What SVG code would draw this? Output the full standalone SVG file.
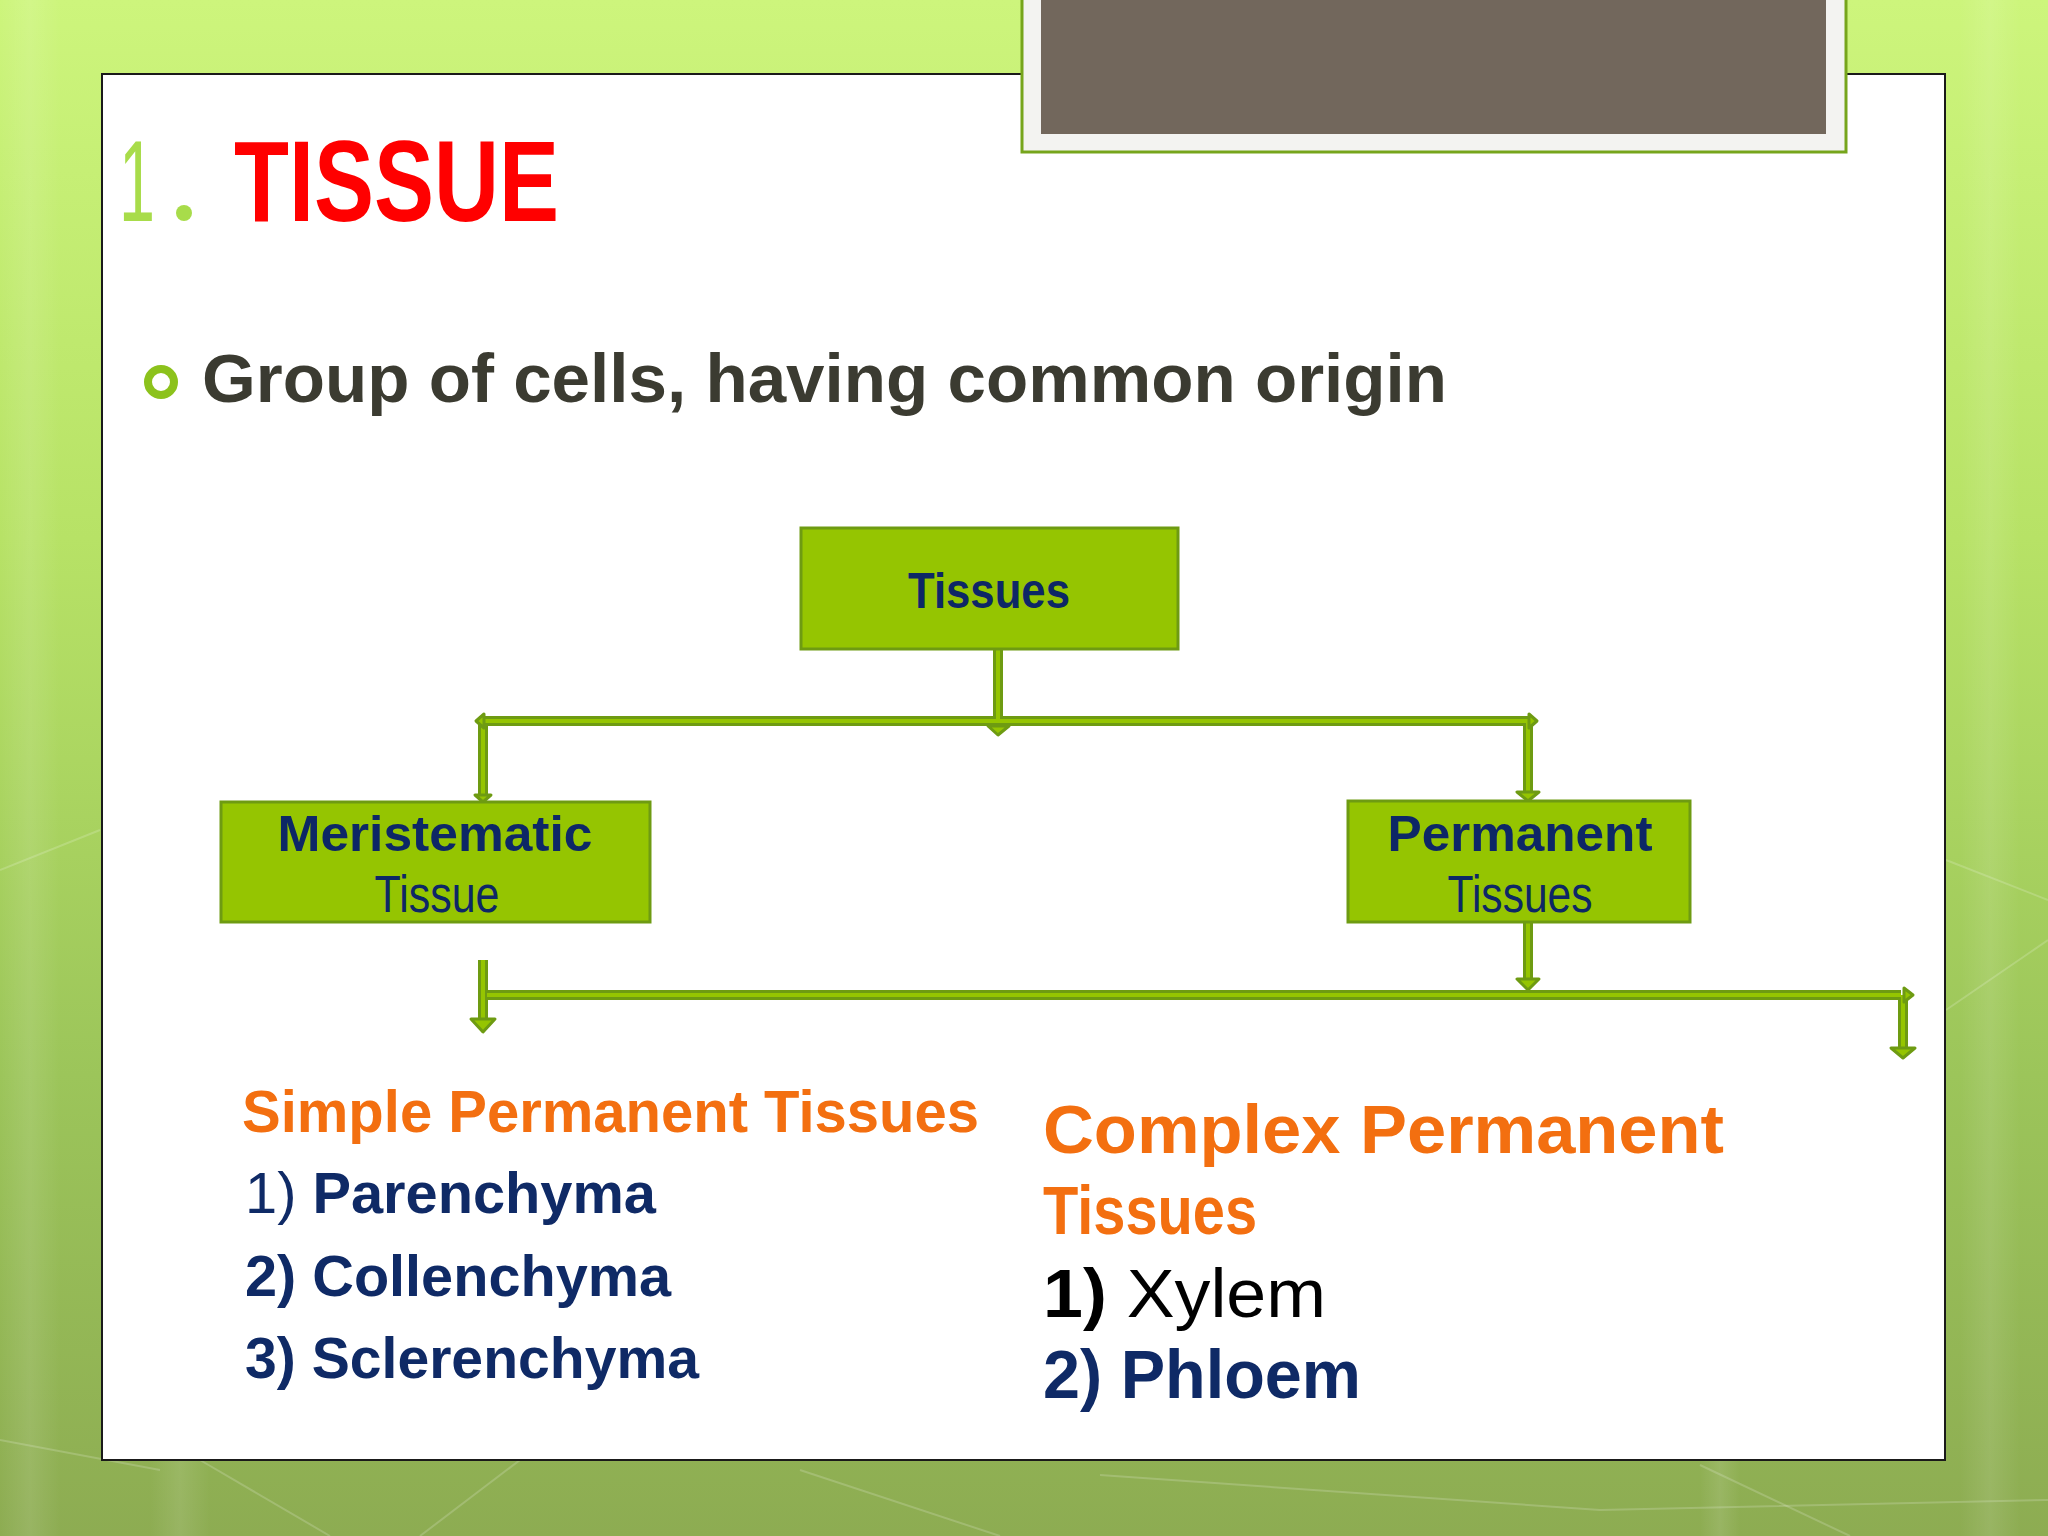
<svg xmlns="http://www.w3.org/2000/svg" width="2048" height="1536" viewBox="0 0 2048 1536">
<defs>
<linearGradient id="bg" x1="0" y1="0" x2="0" y2="1">
<stop offset="0" stop-color="#cdf57c"/>
<stop offset="0.35" stop-color="#b7e266"/>
<stop offset="0.7" stop-color="#9cc55a"/>
<stop offset="1" stop-color="#8dac52"/>
</linearGradient>
<linearGradient id="stripe" x1="0" y1="0" x2="1" y2="0">
<stop offset="0" stop-color="#ffffff" stop-opacity="0"/>
<stop offset="0.5" stop-color="#ffffff" stop-opacity="0.1"/>
<stop offset="1" stop-color="#ffffff" stop-opacity="0"/>
</linearGradient>
<style>
.box{fill:#95c501;stroke:#6e9b12;stroke-width:3}
.lblb{font-family:"Liberation Sans",Arial,sans-serif;font-weight:bold;fill:#0d2766;text-anchor:middle}
.lbll{font-family:"Liberation Sans",Arial,sans-serif;font-weight:normal;fill:#0d2766;text-anchor:middle}
.shaftO{fill:none;stroke:#6e9b12;stroke-width:10}
.shaftI{fill:none;stroke:#95c501;stroke-width:4}
.head{fill:#95c501;stroke:#6e9b12;stroke-width:3;stroke-linejoin:round}
.orange{font-family:"Liberation Sans",Arial,sans-serif;font-weight:bold;fill:#f36f10}
.navy{font-family:"Liberation Sans",Arial,sans-serif;font-weight:bold;fill:#0f2a66}
</style>
</defs>

<!-- background -->
<rect x="0" y="0" width="2048" height="1536" fill="url(#bg)"/>
<rect x="0" y="0" width="60" height="1536" fill="url(#stripe)"/>
<rect x="150" y="1460" width="60" height="76" fill="url(#stripe)"/>
<rect x="1960" y="0" width="60" height="1536" fill="url(#stripe)"/>
<rect x="1700" y="1460" width="40" height="76" fill="url(#stripe)"/>
<g stroke="#ffffff" stroke-opacity="0.18" stroke-width="2" fill="none">
<path d="M0 1440 L160 1470"/>
<path d="M200 1460 L330 1536"/>
<path d="M520 1460 L420 1536"/>
<path d="M800 1470 L1000 1536"/>
<path d="M1100 1475 L1600 1510 L2048 1500"/>
<path d="M1700 1465 L1850 1536"/>
<path d="M1946 1010 L2048 940"/>
<path d="M1946 860 L2048 900"/>
<path d="M0 870 L100 830"/>
</g>

<!-- white panel -->
<rect x="102" y="74" width="1843" height="1386" fill="#ffffff" stroke="#1a1a1a" stroke-width="2"/>

<!-- picture frame -->
<rect x="1022" y="-10" width="824" height="162" fill="#f3f3f1" stroke="#76a51c" stroke-width="3"/>
<rect x="1041" y="0" width="785" height="134" fill="#72675c"/>

<!-- title -->
<text x="119" y="221" font-family="Liberation Sans, Arial, sans-serif" font-size="115" fill="#a8dc4a" textLength="36" lengthAdjust="spacingAndGlyphs">1</text>
<circle cx="184" cy="213" r="8" fill="#a8dc4a"/>
<text x="234" y="221" font-family="Liberation Sans, Arial, sans-serif" font-weight="bold" font-size="115" fill="#ff0000" textLength="325" lengthAdjust="spacingAndGlyphs">TISSUE</text>

<!-- bullet -->
<circle cx="161" cy="382" r="13" fill="none" stroke="#8cc21c" stroke-width="8"/>
<text x="202" y="402" font-family="Liberation Sans, Arial, sans-serif" font-weight="bold" font-size="68" fill="#3b3b31" textLength="1245" lengthAdjust="spacingAndGlyphs">Group of cells, having common origin</text>

<!-- connectors -->
<g id="connectors">
<path class="shaftO" d="M998 649 V721 M479 721 H1533 M483 721 V795 M1528 721 V792 M1528 922 V980 M487 995 H1901 M483 960 V1020 M1903 995 V1048"/>
<path class="shaftI" d="M998 649 V721 M479 721 H1533 M483 721 V795 M1528 721 V792 M1528 922 V980 M487 995 H1901 M483 960 V1020 M1903 995 V1048"/>
<polygon class="head" points="988,726 1009,726 998,735"/>
<polygon class="head" points="475,795 491,795 483,802"/>
<polygon class="head" points="1517,792 1539,792 1528,801"/>
<polygon class="head" points="1529,714 1537,721 1529,728"/>
<polygon class="head" points="484,714 476,721 484,728"/>
<polygon class="head" points="1517,979 1539,979 1528,990"/>
<polygon class="head" points="471,1019 495,1019 483,1032"/>
<polygon class="head" points="1891,1048 1915,1048 1903,1058"/>
<polygon class="head" points="1904,988 1913,995 1904,1002"/>
</g>

<!-- nodes -->
<g id="node-tissues">
<rect class="box" x="801" y="528" width="377" height="121"/>
<text class="lblb" x="989" y="608" font-size="50" textLength="162" lengthAdjust="spacingAndGlyphs">Tissues</text>
</g>
<g id="node-meristematic">
<rect class="box" x="221" y="802" width="429" height="120"/>
<text class="lblb" x="435" y="851" font-size="50" textLength="315" lengthAdjust="spacingAndGlyphs">Meristematic</text>
<text class="lbll" x="437" y="912" font-size="52" textLength="125" lengthAdjust="spacingAndGlyphs">Tissue</text>
</g>
<g id="node-permanent">
<rect class="box" x="1348" y="801" width="342" height="121"/>
<text class="lblb" x="1520" y="851" font-size="50" textLength="265" lengthAdjust="spacingAndGlyphs">Permanent</text>
<text class="lbll" x="1520" y="912" font-size="52" textLength="145" lengthAdjust="spacingAndGlyphs">Tissues</text>
</g>

<!-- simple permanent list -->
<g id="simple-list">
<text class="orange" x="242" y="1132" font-size="60" textLength="737" lengthAdjust="spacingAndGlyphs">Simple Permanent Tissues</text>
<text class="navy" x="245" y="1213" font-size="58" textLength="411" lengthAdjust="spacingAndGlyphs"><tspan font-weight="normal">1)</tspan> Parenchyma</text>
<text class="navy" x="245" y="1296" font-size="58" textLength="426" lengthAdjust="spacingAndGlyphs">2) Collenchyma</text>
<text class="navy" x="245" y="1378" font-size="58" textLength="454" lengthAdjust="spacingAndGlyphs">3) Sclerenchyma</text>
</g>

<!-- complex permanent list -->
<g id="complex-list">
<text class="orange" x="1043" y="1153" font-size="68" textLength="681" lengthAdjust="spacingAndGlyphs">Complex Permanent</text>
<text class="orange" x="1043" y="1234" font-size="68" textLength="214" lengthAdjust="spacingAndGlyphs">Tissues</text>
<text x="1043" y="1317" font-family="Liberation Sans, Arial, sans-serif" font-size="68" fill="#000000" textLength="283" lengthAdjust="spacingAndGlyphs"><tspan font-weight="bold">1)</tspan> Xylem</text>
<text class="navy" x="1043" y="1398" font-size="68" textLength="318" lengthAdjust="spacingAndGlyphs">2) Phloem</text>
</g>
</svg>
